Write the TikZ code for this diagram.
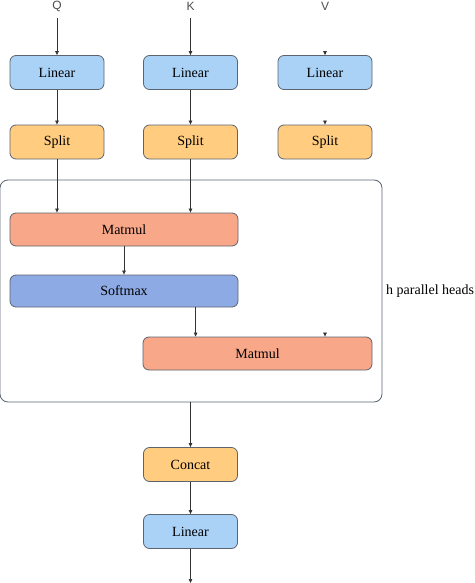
\documentclass[tikz,border=0pt]{standalone}
\usepackage{fontspec}
\setmainfont{Liberation Serif}
\setsansfont{Liberation Sans}
\usetikzlibrary{arrows.meta}

\definecolor{linblue}{HTML}{AAD2F6}
\definecolor{splorange}{HTML}{FFCC80}
\definecolor{mmsalmon}{HTML}{F9A789}
\definecolor{smblue}{HTML}{8DAAE4}
\definecolor{edgegray}{HTML}{5C6470}

\tikzset{
  opbox/.style={draw=edgegray, line width=0.8pt, rounded corners=6pt,
    minimum width=94pt, minimum height=34pt, inner sep=0pt,
    font=\fontsize{14}{16}\selectfont},
  arr/.style={draw=black!80, line width=0.7pt, -{Triangle[length=4pt,width=3.5pt]}},
  inlabel/.style={font=\sffamily\fontsize{12}{14}\selectfont, text=black!70}
}

\begin{document}
\begin{tikzpicture}[x=1pt,y=1pt]
    \useasboundingbox (0,0) rectangle (474,-583);

    % inputs
    \node[inlabel] (qlab) at (57,-6) {Q};
    \node[inlabel] (klab) at (190.5,-6) {K};
    \node[inlabel] (vlab) at (325,-6) {V};
    \coordinate (qin) at (57,-18);
    \coordinate (kin) at (190.5,-18);

    % Linear and Split
    \node[opbox, fill=linblue] (qlin) at (57,-72.5) {Linear};
    \node[opbox, fill=linblue] (klin) at (190.5,-72.5) {Linear};
    \node[opbox, fill=linblue] (vlin) at (325,-72.5) {Linear};
    \node[opbox, fill=splorange] (qsp) at (57,-142) {Split};
    \node[opbox, fill=splorange] (ksp) at (190.5,-142) {Split};
    \node[opbox, fill=splorange] (vsp) at (325,-142) {Split};

    % parallel heads
    \draw[edgegray, line width=0.8pt, rounded corners=8pt] (0,-180) rectangle (382,-402);
    \coordinate (heads) at (190.5,-402);
    \node[anchor=west, inner sep=1pt, font=\fontsize{14}{16}\selectfont] (hlab) at (385,-291) {h parallel heads};

    \node[opbox, fill=mmsalmon, minimum width=228pt, minimum height=33pt] (mm1) at (124,-229.5) {Matmul};
    \node[opbox, fill=smblue, minimum width=228pt, minimum height=32pt] (sm) at (124,-291) {Softmax};
    \node[opbox, fill=mmsalmon, minimum width=229pt, minimum height=33pt] (mm2) at (257.5,-353.5) {Matmul};

    % Concat and Linear
    \node[opbox, fill=splorange] (cat) at (190.5,-464.5) {Concat};
    \node[opbox, fill=linblue] (olin) at (190.5,-531.5) {Linear};
    \coordinate (out) at (190.5,-583);

    % arrows
    \draw[arr] (qin) -- (qlin.north);
    \draw[arr] (kin) -- (klin.north);
    \draw[arr] ([yshift=1.5pt]vlin.north) -- (vlin.north);
    \draw[arr] (qlin.south) -- (qsp.north);
    \draw[arr] (klin.south) -- (ksp.north);
    \draw[arr] ([yshift=1.5pt]vsp.north) -- (vsp.north);
    \draw[arr] (qsp.south) -- (qsp.south |- mm1.north);
    \draw[arr] (ksp.south) -- (ksp.south |- mm1.north);
    \draw[arr] (mm1.south) -- (sm.north);
    \draw[arr] ([xshift=53pt]mm2.north west |- sm.south) -- ([xshift=53pt]mm2.north west);
    \draw[arr] ([yshift=1.5pt]vsp.south |- mm2.north) -- (vsp.south |- mm2.north);
    \draw[arr] (heads) -- (cat.north);
    \draw[arr] (cat.south) -- (olin.north);
    \draw[arr] (olin.south) -- (out);
\end{tikzpicture}
\end{document}
